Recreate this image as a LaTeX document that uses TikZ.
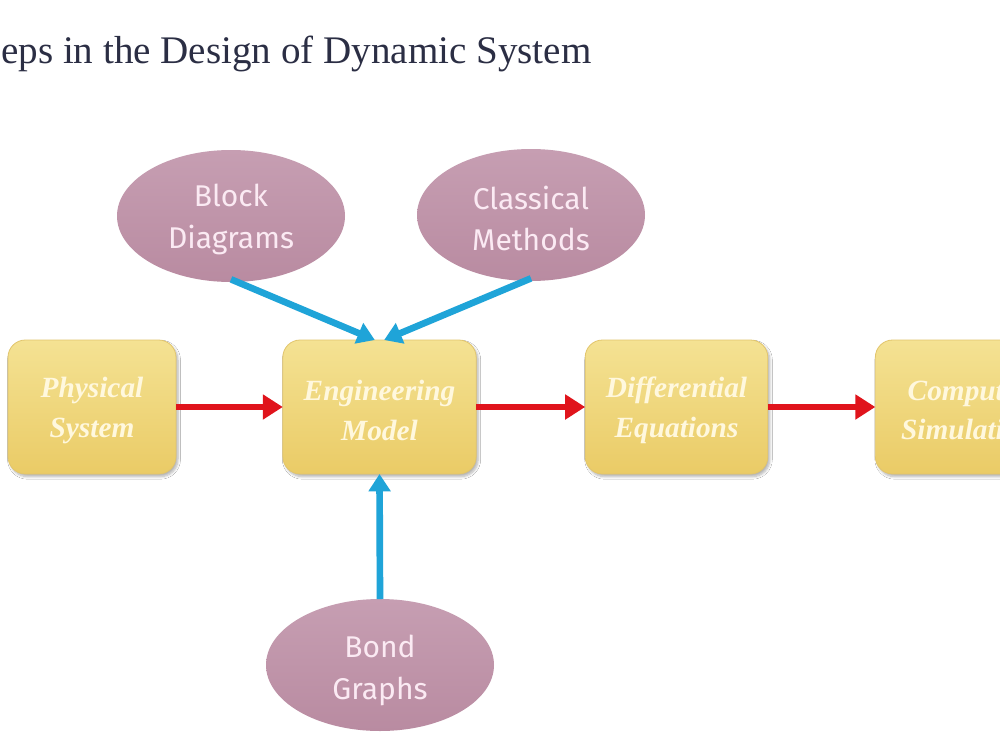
\documentclass[tikz,border=0pt]{standalone}
\usepackage{fontspec}
\setmainfont{Liberation Serif}
\newfontfamily\ellfont{Fira Sans}
\usetikzlibrary{arrows.meta,shadows.blur,shapes.geometric}
\definecolor{boxtop}{HTML}{F4E293}
\definecolor{boxbot}{HTML}{EACB66}
\definecolor{boxedge}{HTML}{E2C56C}
\definecolor{boxtext}{HTML}{FFF8DE}
\definecolor{elltop}{HTML}{C69EB2}
\definecolor{ellbot}{HTML}{B98BA1}
\definecolor{elltext}{HTML}{FBEAF3}
\definecolor{arrowred}{HTML}{E0141C}
\definecolor{arrowblue}{HTML}{1FA4D8}
\definecolor{titlecol}{HTML}{2B2E44}
\tikzset{
  stepbox/.style={rectangle, rounded corners=13pt, top color=boxtop, bottom color=boxbot,
    draw=boxedge, line width=0.6pt, minimum height=100.5pt, outer sep=0pt,
    blur shadow={shadow xshift=1.5pt, shadow yshift=-2pt, shadow blur steps=6, shadow opacity=30}},
  boxlabel/.style={text=boxtext, font=\bfseries\itshape\fontsize{22}{29.5}\selectfont,
    align=center, yshift=-2.5pt, inner sep=0pt},
  ellnode/.style={ellipse, minimum width=171pt, minimum height=99pt, inner sep=0pt, outer sep=0pt,
    top color=elltop, bottom color=ellbot},
  elllabel/.style={text=elltext, font=\ellfont\fontsize{22.5}{31}\selectfont,
    align=center, yshift=-2.5pt, inner sep=0pt},
  redarrow/.style={draw=arrowred, line width=4.7pt, -{Triangle[length=15pt, width=18pt]}},
  bluearrow/.style={draw=arrowblue, line width=5pt, -{Triangle[length=13pt, width=16pt]}}
}
\begin{document}
\begin{tikzpicture}[x=0.75pt,y=-0.75pt]
\useasboundingbox (0,0) rectangle (1000,750);
\clip (0,0) rectangle (1000,750);
\fill[white] (0,0) rectangle (1000,750);

\node[anchor=base west, inner sep=0pt, text=titlecol, font=\fontsize{29.3}{34}\selectfont] (title) at (1,63) {eps in the Design of Dynamic System};

\node[stepbox, minimum width=126pt, label={[boxlabel]center:{Physical\\System}}] (phys) at (92,407) {};
\node[stepbox, minimum width=145pt, label={[boxlabel]center:{Engineering\\Model}}] (eng) at (379.5,407) {};
\node[stepbox, minimum width=137pt, label={[boxlabel]center:{Differential\\Equations}}] (diff) at (676.5,407) {};
\node[stepbox, minimum width=139pt, label={[boxlabel]center:{Computer\\Simulation}}] (comp) at (968,407) {};

\node[ellnode, label={[elllabel]center:{Block\\Diagrams}}] (blk) at (231,216) {};
\node[ellnode, label={[elllabel]center:{Classical\\Methods}}] (cls) at (531,215) {};
\node[ellnode, label={[elllabel, yshift=-1.5pt]center:{Bond\\Graphs}}] (bond) at (380,665) {};

\draw[redarrow] (phys) -- (eng);
\draw[redarrow] (eng) -- (diff);
\draw[redarrow] (diff) -- (comp);

\draw[bluearrow] ([yshift=2pt]blk.south) -- ([xshift=-3.5pt]eng.north);
\draw[bluearrow] ([yshift=2pt]cls.south) -- ([xshift=3.5pt]eng.north);
\draw[bluearrow] (bond.north) -- (eng.south);
\end{tikzpicture}
\end{document}
